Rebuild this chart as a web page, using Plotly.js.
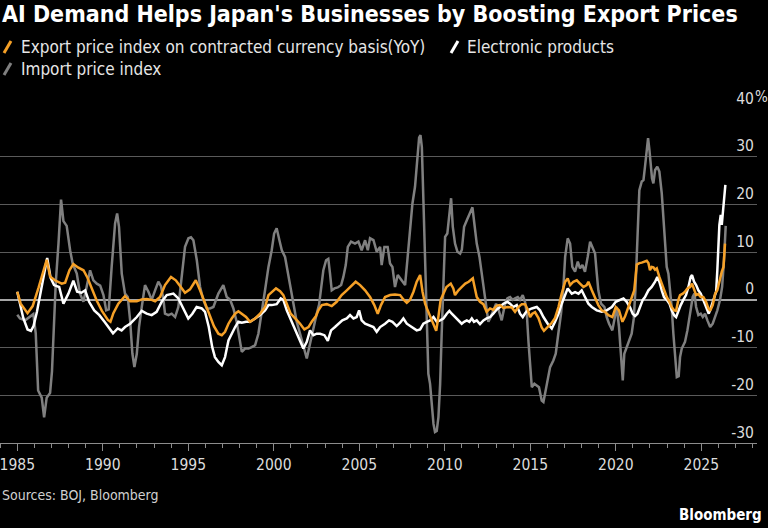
<!DOCTYPE html>
<html>
<head>
<meta charset="utf-8">
<script src="https://cdn.plot.ly/plotly-3.0.1.min.js"></script>
<style>
  html, body { margin: 0; padding: 0; background: #000; }
  #chart { width: 768px; height: 528px; }
</style>
</head>
<body>
<div id="chart"></div>
<script>
// Year-on-year change, %, as [decimal year, value]
const exportPrice = [[1985.0,1.7],[1985.2,-0.8],[1985.6,-2.8],[1985.9,-1.3],[1986.25,2.6],[1986.5,5.8],[1986.72,8.4],[1986.92,4.9],[1987.2,4.1],[1987.6,3.4],[1987.8,3.6],[1988.05,6.2],[1988.28,7.5],[1988.55,6.8],[1988.87,6.2],[1989.1,4.7],[1989.38,2.0],[1989.65,-0.2],[1989.95,-2.3],[1990.3,-4.2],[1990.45,-4.6],[1990.62,-2.8],[1990.91,-0.8],[1991.3,0.8],[1991.6,-0.3],[1991.99,-0.3],[1992.28,0.1],[1992.57,0.2],[1992.86,0],[1993.06,-0.3],[1993.35,0.6],[1993.64,3.1],[1993.99,4.8],[1994.27,4.1],[1994.52,2.9],[1994.81,1.5],[1995.1,2.2],[1995.44,4.1],[1995.69,2.0],[1995.98,-0.8],[1996.27,-3.2],[1996.5,-5.5],[1996.76,-7.1],[1996.96,-7.4],[1997.15,-6.7],[1997.35,-5.0],[1997.54,-3.9],[1997.74,-2.9],[1997.93,-2.4],[1998.13,-2.9],[1998.38,-3.6],[1998.61,-4.6],[1998.91,-3.9],[1999.2,-2.9],[1999.49,-1.5],[1999.69,1.0],[1999.88,1.7],[2000.13,2.4],[2000.37,1.8],[2000.56,1.0],[2000.76,-0.8],[2000.99,-2.9],[2001.25,-3.9],[2001.54,-5.0],[2001.79,-6.2],[2002.03,-5.7],[2002.22,-4.6],[2002.47,-3.4],[2002.61,-2.2],[2002.81,-1.1],[2003.1,-0.9],[2003.39,-1.3],[2003.68,-0.4],[2003.97,1.0],[2004.27,2.0],[2004.56,3.1],[2004.79,3.8],[2005.05,3.1],[2005.34,2.0],[2005.63,0.6],[2005.88,-1.1],[2006.08,-2.9],[2006.27,-1.1],[2006.51,0.6],[2006.8,1.0],[2007.09,1.1],[2007.39,1.0],[2007.58,0.1],[2007.78,-0.6],[2007.97,0],[2008.17,1.7],[2008.36,3.8],[2008.56,5.2],[2008.7,1.7],[2008.85,-0.8],[2009.0,-2.2],[2009.2,-3.9],[2009.5,-6.5],[2009.63,-3.5],[2009.76,0],[2009.92,1.3],[2010.1,2.7],[2010.35,3.4],[2010.5,2.4],[2010.6,1.0],[2010.8,2.0],[2011.0,2.7],[2011.2,3.4],[2011.4,3.8],[2011.5,4.1],[2011.64,4.5],[2011.72,3.1],[2011.87,0.6],[2012.06,-0.4],[2012.26,-0.9],[2012.45,-2.5],[2012.65,-1.8],[2012.84,-2.1],[2013.04,-1.2],[2013.23,-1.1],[2013.43,-1.7],[2013.66,-1.5],[2013.92,-1.6],[2014.11,-2.5],[2014.31,-1.5],[2014.5,-0.9],[2014.7,-0.9],[2014.85,-2.0],[2014.99,-3.6],[2015.12,-2.9],[2015.28,-2.6],[2015.48,-3.8],[2015.67,-5.8],[2015.8,-6.5],[2016.0,-5.8],[2016.26,-4.8],[2016.45,-3.8],[2016.65,-1.5],[2016.84,1.3],[2017.04,3.8],[2017.19,4.5],[2017.33,3.1],[2017.52,3.8],[2017.72,4.1],[2017.91,3.4],[2018.11,2.7],[2018.3,3.1],[2018.4,3.8],[2018.6,2.0],[2018.79,0.6],[2018.98,-1.1],[2019.18,-2.2],[2019.37,-2.5],[2019.57,-3.2],[2019.8,-3.6],[2020.0,-1.5],[2020.19,-2.2],[2020.39,-4.6],[2020.54,-3.5],[2020.74,-1.5],[2020.9,0.2],[2021.08,2.0],[2021.23,7.4],[2021.38,7.7],[2021.52,7.8],[2021.62,8.0],[2021.81,8.2],[2021.91,7.7],[2022.0,6.2],[2022.1,6.9],[2022.2,6.8],[2022.3,6.3],[2022.4,6.6],[2022.55,4.8],[2022.69,3.4],[2022.82,2.0],[2022.98,0.6],[2023.14,-0.4],[2023.27,-1.5],[2023.41,-2.2],[2023.53,-2.3],[2023.66,0],[2023.76,1.0],[2023.92,1.3],[2024.05,1.7],[2024.19,2.4],[2024.35,2.7],[2024.46,3.4],[2024.58,2.4],[2024.7,1.0],[2024.83,1.2],[2024.97,0.6],[2025.12,0.6],[2025.28,-0.4],[2025.42,-1.8],[2025.52,-2.3],[2025.67,-1.1],[2025.81,1.3],[2025.94,2.0],[2026.06,4.1],[2026.2,5.9],[2026.3,6.9],[2026.39,11.8]];

const electronicProducts = [[1985.0,1.7],[1985.15,-1.0],[1985.35,-3.8],[1985.6,-6.2],[1985.8,-6.5],[1985.95,-5.5],[1986.15,-2.5],[1986.35,1.3],[1986.55,5.0],[1986.75,8.8],[1986.95,4.6],[1987.15,3.1],[1987.45,2.7],[1987.7,-0.8],[1987.99,1.3],[1988.28,4.0],[1988.5,1.7],[1988.75,1.5],[1988.97,2.0],[1989.2,-0.4],[1989.5,-2.2],[1989.8,-3.2],[1990.1,-4.6],[1990.4,-6.0],[1990.6,-7.0],[1990.87,-6.0],[1991.1,-6.4],[1991.3,-5.7],[1991.6,-5.0],[1991.99,-3.6],[1992.28,-2.3],[1992.57,-2.9],[1992.86,-3.2],[1993.15,-2.5],[1993.45,-0.4],[1993.74,1.0],[1994.13,1.3],[1994.42,0.3],[1994.71,-1.8],[1995.0,-3.9],[1995.24,-2.9],[1995.49,-1.5],[1995.79,-1.8],[1995.98,-2.5],[1996.2,-5.7],[1996.4,-9.9],[1996.56,-12.0],[1996.76,-13.0],[1996.96,-13.7],[1997.15,-12.0],[1997.35,-8.5],[1997.54,-7.1],[1997.74,-5.7],[1997.93,-4.6],[1998.13,-4.8],[1998.38,-4.6],[1998.61,-4.6],[1998.91,-3.9],[1999.2,-3.2],[1999.49,-2.2],[1999.69,-1.1],[1999.88,-1.1],[2000.17,-0.9],[2000.41,0.3],[2000.56,0],[2000.76,-2.2],[2001.05,-4.6],[2001.3,-6.4],[2001.54,-8.5],[2001.73,-10.2],[2001.93,-8.8],[2002.12,-6.4],[2002.32,-7.4],[2002.51,-7.1],[2002.71,-7.1],[2002.96,-7.4],[2003.16,-8.6],[2003.35,-6.4],[2003.58,-5.7],[2003.78,-5.0],[2004.01,-4.3],[2004.27,-3.9],[2004.46,-3.2],[2004.66,-3.9],[2004.85,-3.6],[2004.99,-2.2],[2005.14,-4.3],[2005.34,-5.0],[2005.57,-5.3],[2005.83,-5.7],[2006.02,-6.7],[2006.22,-5.7],[2006.51,-5.0],[2006.74,-4.3],[2006.94,-4.6],[2007.19,-5.5],[2007.39,-4.8],[2007.58,-3.9],[2007.78,-5.0],[2008.07,-5.7],[2008.36,-6.4],[2008.56,-6.2],[2008.75,-5.0],[2008.95,-4.6],[2009.14,-4.3],[2009.34,-3.6],[2009.53,-4.6],[2009.73,-4.3],[2009.92,-3.9],[2010.12,-2.9],[2010.27,-2.3],[2010.41,-2.9],[2010.6,-3.6],[2010.8,-4.3],[2010.99,-5.0],[2011.13,-4.6],[2011.29,-4.3],[2011.44,-4.6],[2011.58,-3.9],[2011.71,-4.6],[2011.87,-4.3],[2012.06,-5.1],[2012.26,-4.3],[2012.45,-3.9],[2012.65,-3.6],[2012.84,-2.9],[2013.04,-2.0],[2013.23,-1.5],[2013.43,-0.8],[2013.66,-0.4],[2013.82,-0.8],[2014.01,-1.5],[2014.21,-1.1],[2014.4,-2.9],[2014.56,-3.6],[2014.7,-2.8],[2014.85,-2.2],[2015.09,-1.8],[2015.38,-1.5],[2015.57,-2.2],[2015.77,-3.6],[2016.02,-5.0],[2016.26,-6.0],[2016.45,-4.6],[2016.65,-2.9],[2016.84,-0.8],[2017.04,1.0],[2017.19,2.4],[2017.43,1.3],[2017.62,1.6],[2017.82,1.3],[2018.01,2.0],[2018.2,0.6],[2018.4,-0.8],[2018.6,-1.5],[2018.89,-2.2],[2019.18,-2.5],[2019.47,-2.2],[2019.77,-1.5],[2020.0,-0.4],[2020.25,0],[2020.45,0.3],[2020.64,-0.4],[2020.84,-1.6],[2020.99,-2.9],[2021.13,-3.4],[2021.27,-2.9],[2021.42,-1.5],[2021.58,0],[2021.71,0.6],[2021.91,2.0],[2022.1,2.7],[2022.3,3.8],[2022.43,4.8],[2022.55,3.8],[2022.69,2.0],[2022.82,0.6],[2022.98,0],[2023.14,-0.8],[2023.27,-2.2],[2023.41,-3.2],[2023.53,-3.6],[2023.66,-2.2],[2023.8,-1.1],[2023.95,0],[2024.11,1.0],[2024.25,2.7],[2024.38,4.8],[2024.46,5.2],[2024.58,3.8],[2024.7,3.1],[2024.83,2.0],[2024.97,1.3],[2025.12,0],[2025.28,-1.5],[2025.44,-2.9],[2025.55,-1.8],[2025.71,0],[2025.87,1.7],[2025.94,6.2],[2026.0,11.8],[2026.06,15.7],[2026.14,17.8],[2026.2,15.7],[2026.26,18.1],[2026.33,20.9],[2026.41,24.1]];

const importPrice = [[1985.0,-3.1],[1985.16,-3.9],[1985.46,-4.3],[1985.75,-3.6],[1985.94,-3.0],[1986.08,-7.0],[1986.22,-19.0],[1986.43,-20.5],[1986.57,-24.6],[1986.72,-20.5],[1986.92,-19.5],[1987.03,-15],[1987.12,-6],[1987.25,3.5],[1987.41,11.8],[1987.56,21.0],[1987.7,16.5],[1987.89,15.5],[1988.09,10.4],[1988.24,7.6],[1988.48,5.5],[1988.67,1.3],[1988.87,-0.4],[1989.07,3.4],[1989.26,6.2],[1989.45,4.1],[1989.65,3.4],[1989.85,3.0],[1990.04,1.0],[1990.2,-2.2],[1990.35,-2.0],[1990.52,6.9],[1990.72,16.0],[1990.84,18.1],[1990.95,15.3],[1991.11,5.5],[1991.3,1.3],[1991.46,0.6],[1991.6,-4.3],[1991.73,-11.2],[1991.85,-14.1],[1991.99,-11.3],[1992.12,-5.7],[1992.28,-1.5],[1992.47,3.1],[1992.67,1.7],[1992.86,0],[1993.06,2.0],[1993.25,3.8],[1993.41,2.8],[1993.55,0],[1993.64,-2.9],[1993.84,-3.2],[1994.03,-2.9],[1994.23,-3.6],[1994.42,-1.5],[1994.62,5.5],[1994.81,11.1],[1995.01,12.9],[1995.16,13.1],[1995.3,12.5],[1995.5,8.3],[1995.69,2.7],[1995.88,0],[1996.08,-1.8],[1996.27,-1.8],[1996.47,-1.5],[1996.76,1.3],[1997.05,3.1],[1997.25,0.6],[1997.45,0],[1997.64,-1.8],[1997.83,-4.6],[1997.99,-8.5],[1998.13,-10.9],[1998.32,-10.2],[1998.52,-10.2],[1998.71,-9.9],[1998.91,-9.5],[1999.1,-7.1],[1999.3,-2.9],[1999.49,2.0],[1999.69,6.9],[1999.88,10.4],[2000.02,13.9],[2000.17,15.0],[2000.33,12.5],[2000.47,10.4],[2000.66,9.0],[2000.8,6.2],[2000.95,2.7],[2001.15,-1.5],[2001.34,-4.6],[2001.54,-7.1],[2001.73,-9.9],[2001.93,-12.3],[2002.12,-9.2],[2002.32,-5.7],[2002.51,-2.9],[2002.65,-1.0],[2002.77,2.7],[2002.9,6.2],[2003.06,8.3],[2003.19,8.6],[2003.29,5.5],[2003.39,2.0],[2003.55,2.4],[2003.74,2.6],[2003.94,3.1],[2004.07,4.8],[2004.21,7.3],[2004.33,11.1],[2004.52,12.2],[2004.75,11.8],[2004.95,12.2],[2005.14,10.4],[2005.34,12.5],[2005.5,10.4],[2005.63,12.9],[2005.83,12.5],[2006.02,10.1],[2006.22,11.1],[2006.31,7.3],[2006.47,11.1],[2006.66,11.1],[2006.8,7.6],[2006.94,6.9],[2007.09,2.7],[2007.25,5.2],[2007.45,4.1],[2007.68,3.1],[2007.83,9.0],[2007.97,15.3],[2008.11,20.2],[2008.26,23.7],[2008.36,27.9],[2008.5,34.0],[2008.58,34.5],[2008.66,32.0],[2008.75,21.0],[2008.85,7.0],[2008.95,-7.1],[2009.04,-15.5],[2009.14,-17.6],[2009.24,-22.5],[2009.34,-26.0],[2009.43,-27.7],[2009.53,-27.5],[2009.63,-24.6],[2009.73,-17.6],[2009.82,-7.1],[2009.92,2.7],[2010.02,13.2],[2010.15,13.9],[2010.25,18.1],[2010.37,21.3],[2010.47,15.3],[2010.6,11.8],[2010.74,10.1],[2010.9,9.7],[2011.0,10.5],[2011.13,15.3],[2011.29,16.7],[2011.48,18.1],[2011.62,19.4],[2011.73,16.0],[2011.87,11.8],[2012.03,9.0],[2012.16,5.5],[2012.3,2.7],[2012.42,-1.5],[2012.55,-4.6],[2012.69,-3.6],[2012.84,-2.2],[2013.0,-0.8],[2013.14,-2.0],[2013.33,-4.3],[2013.53,-0.8],[2013.66,0.3],[2013.82,0.6],[2013.97,0],[2014.11,0.3],[2014.27,0.6],[2014.4,0],[2014.56,1.0],[2014.7,-0.5],[2014.8,-3.0],[2014.9,-9.0],[2014.99,-14.1],[2015.09,-18.3],[2015.24,-17.6],[2015.38,-18.0],[2015.51,-18.3],[2015.67,-21.1],[2015.77,-21.4],[2015.9,-19.0],[2016.06,-15.5],[2016.16,-14.1],[2016.35,-12.7],[2016.49,-11.3],[2016.64,-7.1],[2016.8,-2.9],[2016.94,2.7],[2017.04,9.0],[2017.19,12.9],[2017.33,11.8],[2017.46,6.9],[2017.62,5.9],[2017.78,8.0],[2017.91,6.6],[2018.05,7.3],[2018.2,5.9],[2018.36,9.0],[2018.5,12.2],[2018.63,11.1],[2018.79,9.7],[2018.89,5.5],[2018.98,2.0],[2019.14,-0.8],[2019.34,-1.5],[2019.47,-3.6],[2019.61,-5.0],[2019.8,-6.4],[2019.96,-3.6],[2020.06,-1.5],[2020.19,-5.7],[2020.31,-12.7],[2020.41,-16.9],[2020.5,-11.3],[2020.64,-9.9],[2020.78,-8.5],[2020.93,-7.1],[2021.05,-4.0],[2021.15,2.0],[2021.27,13.0],[2021.38,23.0],[2021.52,24.8],[2021.62,25.1],[2021.71,27.9],[2021.81,31.4],[2021.89,33.9],[2021.97,31.4],[2022.04,27.9],[2022.12,25.5],[2022.2,24.4],[2022.3,27.2],[2022.43,27.9],[2022.55,26.9],[2022.69,22.3],[2022.79,17.4],[2022.88,11.1],[2022.98,6.9],[2023.08,5.5],[2023.18,2.0],[2023.27,-1.5],[2023.37,-7.1],[2023.47,-12.7],[2023.57,-16.2],[2023.68,-16.0],[2023.76,-12.0],[2023.86,-10.2],[2024.05,-8.8],[2024.19,-6.4],[2024.35,-2.9],[2024.5,0.6],[2024.6,1.3],[2024.7,-1.5],[2024.83,-3.2],[2024.97,-2.9],[2025.09,-3.6],[2025.22,-2.9],[2025.36,-4.3],[2025.52,-5.7],[2025.67,-5.0],[2025.81,-3.6],[2025.94,-2.2],[2026.1,0],[2026.22,2.7],[2026.33,8.3],[2026.43,15.5]];

const yTickValues = [-30, -20, -10, 0, 10, 20, 30, 40];
const yTickLabels = ['-30', '-20', '-10', '0', '10', '20', '30', '40'];

const FONT = "'DejaVu Sans Condensed', 'DejaVu Sans', sans-serif";
const ORANGE = '#f5a027';
const WHITE = '#ffffff';
const GREY = '#808080';

// plot area in pixels (left 0, right 757, top 109, bottom 443)
const PL = 0, PR = 757, PT = 109, PB = 443;
const px = x => (x - PL) / (PR - PL);
const py = y => (PB - y) / (PB - PT);

function line(series, color, name) {
  return {
    type: 'scatter', mode: 'lines', name: name,
    x: series.map(p => p[0]), y: series.map(p => p[1]),
    line: { color: color, width: 2.5 },
    hoverinfo: 'skip', showlegend: false
  };
}

const traces = [
  line(importPrice, GREY, 'Import price index'),
  line(electronicProducts, WHITE, 'Electronic products'),
  line(exportPrice, ORANGE, 'Export price index on contracted currency basis(YoY)')
];

function slash(x, y, color) {
  return { type: 'line', xref: 'paper', yref: 'paper',
    x0: px(x), y0: py(y + 6), x1: px(x + 7), y1: py(y - 6),
    line: { color: color, width: 3 } };
}
function label(text, x, y, opts) {
  return Object.assign({ text: text, xref: 'paper', yref: 'paper',
    x: px(x), y: py(y), xanchor: 'left', yanchor: 'middle', showarrow: false,
    font: { family: FONT, size: 17, color: '#e6e6e6' } }, opts || {});
}

const layout = {
  width: 768, height: 528,
  paper_bgcolor: '#000', plot_bgcolor: '#000',
  margin: { l: PL, r: 768 - PR, t: PT, b: 528 - PB, pad: 0 },
  font: { family: FONT, color: '#e6e6e6' },
  showlegend: false,
  xaxis: {
    range: [1983.99, 2028.26], tickmode: 'linear', tick0: 1985, dtick: 5,
    ticks: 'outside', ticklen: 7, tickwidth: 1, tickcolor: '#8c8c8c',
    showline: true, linecolor: '#8c8c8c', linewidth: 1,
    showgrid: false, zeroline: false, ticklabeloverflow: 'allow',
    tickfont: { family: FONT, size: 15.5, color: '#dcdcdc' },
    minor: { tick0: 1985, dtick: 1, ticks: 'outside', ticklen: 4, tickcolor: '#8c8c8c', showgrid: false }
  },
  yaxis: {
    side: 'right', range: [-30, 40],
    tickmode: 'array', tickvals: yTickValues, ticktext: yTickLabels,
    ticklabelposition: 'inside top', ticklabeloverflow: 'allow',
    ticks: '', showline: false,
    gridcolor: '#5a5a5a', gridwidth: 1,
    zeroline: true, zerolinecolor: '#a6a6a6', zerolinewidth: 1.5,
    tickfont: { family: FONT, size: 15.5, color: '#dcdcdc' }
  },
  shapes: [
    slash(4, 47, ORANGE),
    slash(451, 47, WHITE),
    slash(4, 69, GREY)
  ],
  annotations: [
    label('AI Demand Helps Japan\'s Businesses by Boosting Export Prices', 0, 14,
      { font: { family: FONT, size: 23, color: '#ffffff', weight: 700 } }),
    label('Export price index on contracted currency basis(YoY)', 19, 47),
    label('Electronic products', 465, 47),
    label('Import price index', 19, 69),
    label('%', 753, 97, { font: { family: FONT, size: 15, color: '#dcdcdc' } }),
    label('Sources: BOJ, Bloomberg', 0, 495, { font: { family: FONT, size: 14, color: '#d0d0d0' } }),
    label('Bloomberg', 764, 515, { xanchor: 'right',
      font: { family: FONT, size: 15, color: '#ffffff', weight: 700 } })
  ]
};

Plotly.newPlot('chart', traces, layout, { displayModeBar: false, staticPlot: true });
</script>
</body>
</html>
